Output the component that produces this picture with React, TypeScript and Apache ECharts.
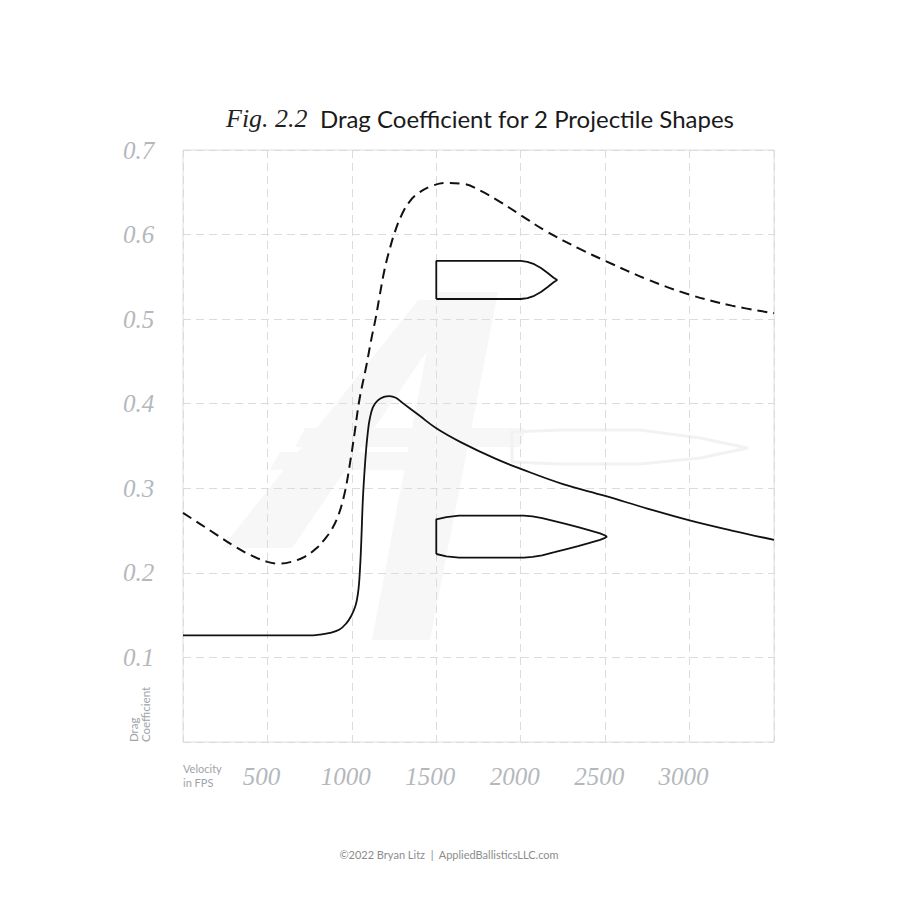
import React, { useEffect, useRef } from 'react';
import * as echarts from 'echarts';

// Velocity (fps) vs drag coefficient
const flatBaseCurve: [number, number][] = [
  [0, 0.271], [100, 0.258], [200, 0.245], [300, 0.232], [400, 0.221], [500, 0.213],
  [570, 0.211], [640, 0.213], [720, 0.219], [790, 0.229], [840, 0.240], [880, 0.251],
  [920, 0.268], [957, 0.294], [986, 0.326], [1016, 0.365], [1045, 0.405], [1085, 0.444],
  [1115, 0.476], [1140, 0.500], [1164, 0.527], [1194, 0.559], [1223, 0.582], [1253, 0.602],
  [1292, 0.622], [1342, 0.639], [1401, 0.650], [1480, 0.658], [1560, 0.661], [1660, 0.660],
  [1760, 0.652], [1875, 0.639], [2000, 0.623], [2150, 0.604], [2350, 0.583], [2500, 0.569],
  [2750, 0.547], [3000, 0.529], [3250, 0.516], [3500, 0.507],
];

const boatTailCurve: [number, number][] = [
  [0, 0.126], [750, 0.126], [808, 0.127], [870, 0.129], [927, 0.133], [966, 0.140],
  [996, 0.149], [1018, 0.159], [1030, 0.168], [1040, 0.182], [1046, 0.197], [1051, 0.215],
  [1056, 0.238], [1065, 0.286], [1075, 0.320], [1085, 0.347], [1095, 0.367], [1105, 0.381],
  [1125, 0.396], [1154, 0.404], [1190, 0.408], [1223, 0.409], [1260, 0.407], [1300, 0.401],
  [1400, 0.386], [1500, 0.371], [1650, 0.354], [1850, 0.335], [2000, 0.323], [2250, 0.305],
  [2500, 0.291], [2750, 0.276], [3000, 0.262], [3250, 0.250], [3500, 0.239],
];

// Projectile silhouettes, drawn in the same (fps, Cd) space
const flatBaseShape: [number, number][] = [
  [1500, 0.5238], [1500, 0.5688], [2000, 0.5688], [2040, 0.5678], [2080, 0.565],
  [2120, 0.5605], [2160, 0.5545], [2195, 0.549], [2216, 0.5463], [2195, 0.5436],
  [2160, 0.5381], [2120, 0.5321], [2080, 0.5276], [2040, 0.5248], [2000, 0.5238], [1500, 0.5238],
];

const boatTailShape: [number, number][] = [
  [1500, 0.2223], [1500, 0.2633], [1560, 0.2660], [1635, 0.2676], [2019, 0.2676],
  [2070, 0.2668], [2127, 0.2648], [2200, 0.2612], [2266, 0.2578], [2340, 0.2540],
  [2403, 0.2505], [2470, 0.2466], [2500, 0.2442], [2510, 0.2428], [2500, 0.2414],
  [2470, 0.2390], [2403, 0.2351], [2340, 0.2316], [2266, 0.2278], [2200, 0.2244],
  [2127, 0.2208], [2070, 0.2188], [2019, 0.2180], [1635, 0.2180], [1560, 0.2196], [1500, 0.2223],
];

const xTickLabels = ['500', '1000', '1500', '2000', '2500', '3000'];
const yTickLabels = ['0.1', '0.2', '0.3', '0.4', '0.5', '0.6', '0.7'];

export default function App() {
  const ref = useRef<HTMLDivElement>(null);

  useEffect(() => {
    if (!ref.current) return;
    const chart = echarts.init(ref.current, null, { renderer: 'svg' });
    const labelColor = '#b4b8bc';
    const wm = '#f7f7f7';
    chart.setOption({
      animation: false,
      backgroundColor: '#ffffff',
      title: {
        left: 221,
        top: 100,
        text: '{a|Fig. 2.2}{b|  Drag Coefficient for 2 Projectile Shapes}',
        textStyle: {
          fontWeight: 'normal',
          rich: {
            a: { fontFamily: 'Liberation Serif', fontStyle: 'italic', fontWeight: 'normal', fontSize: 26, color: '#222' },
            b: { fontFamily: 'Lato', fontWeight: 'normal', fontSize: 24, color: '#1a1a1a' },
          },
        },
      },
      grid: {
        left: 183,
        right: 124,
        top: 150,
        bottom: 156,
        show: true,
        borderColor: '#dedede',
        borderWidth: 1,
        backgroundColor: 'transparent',
      },
      xAxis: {
        type: 'value',
        min: 0,
        max: 3500,
        interval: 500,
        axisLine: { show: false },
        axisTick: { show: false },
        splitLine: { show: true, lineStyle: { color: '#dcdcdc', type: [8, 5], width: 1 } },
        axisLabel: {
          margin: 22,
          padding: [0, 12, 0, 0],
          color: labelColor,
          fontFamily: 'Liberation Serif',
          fontStyle: 'italic',
          fontWeight: 'normal',
          fontSize: 25,
          formatter: (v: number) => {
            const s = String(v);
            return xTickLabels.includes(s) ? s : '';
          },
        },
      },
      yAxis: {
        type: 'value',
        min: 0,
        max: 0.7,
        interval: 0.1,
        axisLine: { show: false },
        axisTick: { show: false },
        splitLine: { show: true, lineStyle: { color: '#dcdcdc', type: [8, 5], width: 1 } },
        axisLabel: {
          margin: 60,
          align: 'left',
          color: labelColor,
          fontFamily: 'Liberation Serif',
          fontStyle: 'italic',
          fontWeight: 'normal',
          fontSize: 25,
          formatter: (v: number) => {
            const s = (Math.round(v * 10) / 10).toFixed(1);
            return yTickLabels.includes(s) ? s : '';
          },
        },
      },
      graphic: [
        // faint watermark
        { type: 'polygon', z: -10, silent: true, shape: { points: [[222, 548], [292, 548], [462, 300], [418, 300]] }, style: { fill: wm } },
        { type: 'polygon', z: -10, silent: true, shape: { points: [[438, 292], [498, 292], [430, 640], [372, 640]] }, style: { fill: wm } },
        { type: 'polygon', z: -10, silent: true, shape: { points: [[305, 428], [525, 428], [521, 447], [295, 447]] }, style: { fill: wm } },
        { type: 'polygon', z: -10, silent: true, shape: { points: [[280, 452], [465, 452], [461, 470], [270, 470]] }, style: { fill: wm } },
        {
          type: 'polygon', z: -10, silent: true,
          shape: { points: [[512, 432], [560, 430], [640, 430], [700, 438], [748, 448], [700, 458], [640, 464], [560, 464], [512, 462]] },
          style: { fill: 'none', stroke: '#f2f2f2', lineWidth: 3 },
        },
        {
          type: 'text',
          x: 139,
          y: 742,
          rotation: Math.PI / 2,
          style: {
            text: 'Drag\nCoefficient',
            align: 'left',
            verticalAlign: 'middle',
            fontFamily: 'Lato',
            fontSize: 11.5,
            lineHeight: 12,
            fill: '#a0a4a8',
          },
        },
        {
          type: 'text',
          x: 183,
          y: 775,
          style: {
            text: 'Velocity\nin FPS',
            align: 'left',
            verticalAlign: 'middle',
            fontFamily: 'Lato',
            fontSize: 11,
            lineHeight: 14,
            fill: '#a0a4a8',
          },
        },
        {
          type: 'text',
          x: 449,
          y: 854,
          style: {
            text: '©2022 Bryan Litz  |  AppliedBallisticsLLC.com',
            align: 'center',
            verticalAlign: 'middle',
            fontFamily: 'Lato',
            fontSize: 11,
            fill: '#8c8c8c',
          },
        },
      ],
      series: [
        {
          type: 'line',
          data: flatBaseCurve,
          symbol: 'none',
          smooth: 0.4,
          lineStyle: { color: '#111', width: 2, type: [10, 6] },
          z: 3,
        },
        {
          type: 'line',
          data: boatTailCurve,
          symbol: 'none',
          smooth: 0.4,
          lineStyle: { color: '#111', width: 1.8 },
          z: 3,
        },
        {
          type: 'line',
          data: flatBaseShape,
          symbol: 'none',
          smooth: false,
          lineStyle: { color: '#111', width: 1.8 },
          z: 3,
        },
        {
          type: 'line',
          data: boatTailShape,
          symbol: 'none',
          smooth: false,
          lineStyle: { color: '#111', width: 1.8 },
          z: 3,
        },
      ],
    });
    return () => chart.dispose();
  }, []);

  return (
    <div
      ref={ref}
      style={{ position: 'fixed', left: 0, top: 0, width: 898, height: 898, background: '#fff' }}
    />
  );
}
